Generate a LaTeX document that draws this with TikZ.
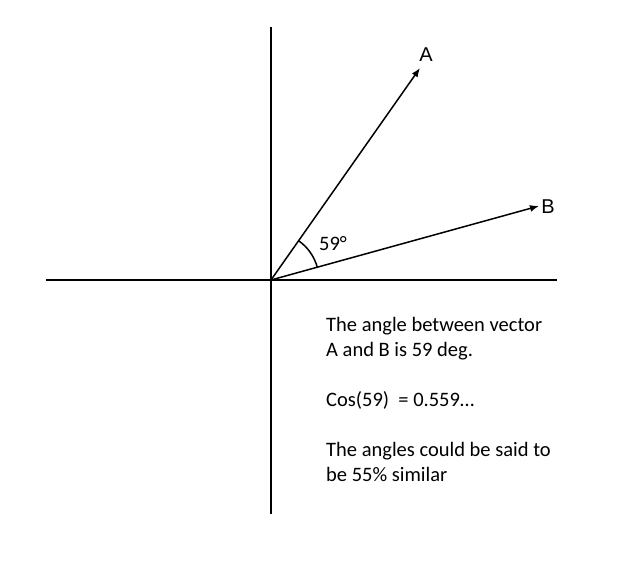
\documentclass[tikz,border=0pt]{standalone}
\usepackage{fontspec}
\setmainfont{Carlito}
\newfontfamily\labfont{Liberation Sans}
\usetikzlibrary{arrows.meta}
\begin{document}
\begin{tikzpicture}[x=1pt,y=1pt,
  axis/.style={line width=1.8pt},
  vec/.style={line width=1.5pt,-{Latex[length=9pt,width=7pt]}},
  lab/.style={font=\labfont\fontsize{20}{22}\selectfont,inner sep=0pt},
  txt/.style={font=\fontsize{20.5}{25}\selectfont,inner sep=0pt,align=left}]
\useasboundingbox (0,0) rectangle (640,564);
\coordinate (O) at (271,284);
\coordinate (Vtop) at (271,537);
\coordinate (Vbot) at (271,50);
\coordinate (Hleft) at (46,284);
\coordinate (Hright) at (557,284);
\coordinate (Atip) at (420,496);
\coordinate (Btip) at (539,358);
\draw[axis] (Vbot) -- (Vtop);
\draw[axis] (Hleft) -- (Hright);
\draw[vec] (O) -- (Atip);
\draw[vec] (O) -- (Btip);
\node[lab] (Alab) at (426,509) {A};
\node[lab] (Blab) at (548,357) {B};
\draw[line width=1.5pt] ([shift={(15.4:48)}]O) arc[start angle=15.4, end angle=55, radius=48pt];
\node[txt] (ang) at (333,320) {59°};
\node[txt,anchor=north west] (note) at (326,247) {The angle between vector\\A and B is 59 deg.\\[25pt]Cos(59)\ \ = 0.559…\\[25pt]The angles could be said to\\be 55\% similar};
\end{tikzpicture}
\end{document}
